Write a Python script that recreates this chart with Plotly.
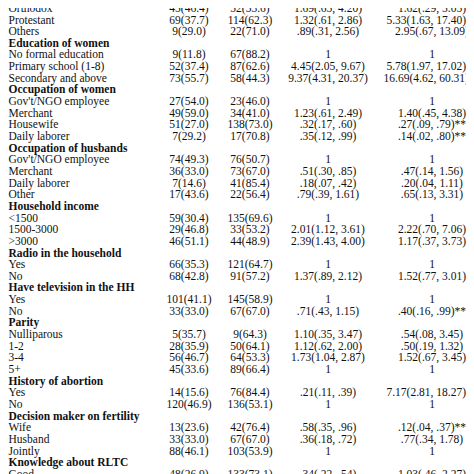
import plotly.graph_objects as go

# rows of the table, headers marked with "H"
labels = ["Orthodox", "Protestant", "Others",
          "H:Education of women", "No formal education", "Primary school (1-8)", "Secondary and above",
          "H:Occupation of women", "Gov't/NGO employee", "Merchant", "Housewife", "Daily laborer",
          "H:Occupation of husbands", "Gov't/NGO employee", "Merchant", "Daily laborer", "Other",
          "H:Household income", "<1500", "1500-3000", ">3000",
          "H:Radio in the household", "Yes", "No",
          "H:Have television in the HH", "Yes", "No",
          "H:Parity", "Nulliparous", "1-2", "3-4", "5+",
          "H:History of abortion", "Yes", "No",
          "H:Decision maker on fertility", "Wife", "Husband", "Jointly",
          "H:Knowledge about RLTC", "Good"]
col_yes = ["45(46.4)", "69(37.7)", "9(29.0)",
           "", "9(11.8)", "52(37.4)", "73(55.7)",
           "", "27(54.0)", "49(59.0)", "51(27.0)", "7(29.2)",
           "", "74(49.3)", "36(33.0)", "7(14.6)", "17(43.6)",
           "", "59(30.4)", "29(46.8)", "46(51.1)",
           "", "66(35.3)", "68(42.8)",
           "", "101(41.1)", "33(33.0)",
           "", "5(35.7)", "28(35.9)", "56(46.7)", "45(33.6)",
           "", "14(15.6)", "120(46.9)",
           "", "13(23.6)", "33(33.0)", "88(46.1)",
           "", "48(26.9)"]
col_no = ["52(53.6)", "114(62.3)", "22(71.0)",
          "", "67(88.2)", "87(62.6)", "58(44.3)",
          "", "23(46.0)", "34(41.0)", "138(73.0)", "17(70.8)",
          "", "76(50.7)", "73(67.0)", "41(85.4)", "22(56.4)",
          "", "135(69.6)", "33(53.2)", "44(48.9)",
          "", "121(64.7)", "91(57.2)",
          "", "145(58.9)", "67(67.0)",
          "", "9(64.3)", "50(64.1)", "64(53.3)", "89(66.4)",
          "", "76(84.4)", "136(53.1)",
          "", "42(76.4)", "67(67.0)", "103(53.9)",
          "", "133(73.1)"]
col_cor = ["1.69(.65, 4.20)", "1.32(.61, 2.86)", ".89(.31, 2.56)",
           "", "1", "4.45(2.05, 9.67)", "9.37(4.31, 20.37)",
           "", "1", "1.23(.61, 2.49)", ".32(.17, .60)", ".35(.12, .99)",
           "", "1", ".51(.30, .85)", ".18(.07, .42)", ".79(.39, 1.61)",
           "", "1", "2.01(1.12, 3.61)", "2.39(1.43, 4.00)",
           "", "1", "1.37(.89, 2.12)",
           "", "1", ".71(.43, 1.15)",
           "", "1.10(.35, 3.47)", "1.12(.62, 2.00)", "1.73(1.04, 2.87)", "1",
           "", ".21(.11, .39)", "1",
           "", ".58(.35, .96)", ".36(.18, .72)", "1",
           "", ".34(.22, .54)"]
col_aor = ["1.62(.29, 5.05)", "5.33(1.63, 17.40)**", "2.95(.67, 13.09)",
           "", "1", "5.78(1.97, 17.02)**", "16.69(4.62, 60.31)**",
           "", "1", "1.40(.45, 4.38)", ".27(.09, .79)**", ".14(.02, .80)**",
           "", "1", ".47(.14, 1.56)", ".20(.04, 1.11)", ".65(.13, 3.31)",
           "", "1", "2.22(.70, 7.06)", "1.17(.37, 3.73)",
           "", "1", "1.52(.77, 3.01)",
           "", "1", ".40(.16, .99)**",
           "", ".54(.08, 3.45)", ".50(.19, 1.32)", "1.52(.67, 3.45)", "1",
           "", "7.17(2.81, 18.27)**", "1",
           "", ".12(.04, .37)**", ".77(.34, 1.78)", "1",
           "", "1.03(.46, 2.27)"]

rows = list(range(len(labels)))
label_text = ["<b>" + l[2:] + "</b>" if l.startswith("H:") else l for l in labels]

font = dict(family="Liberation Serif", size=11.5, color="#111")
fig = go.Figure()
fig.add_trace(go.Scatter(x=[0.5] * len(rows), y=rows, text=label_text, mode="text",
                         textposition="middle right", textfont=font))
for xc, col in [(181, col_yes), (242, col_no), (320, col_cor), (424, col_aor)]:
    fig.add_trace(go.Scatter(x=[xc] * len(rows), y=rows, text=col, mode="text",
                             textposition="middle center", textfont=font))

fig.update_layout(width=474, height=474, margin=dict(l=0, r=0, t=0, b=0),
                  paper_bgcolor="white", plot_bgcolor="white", showlegend=False)
fig.update_xaxes(visible=False, range=[0, 474])
fig.update_yaxes(visible=False, range=[40.6, -0.085])
fig.write_html("out.html")
